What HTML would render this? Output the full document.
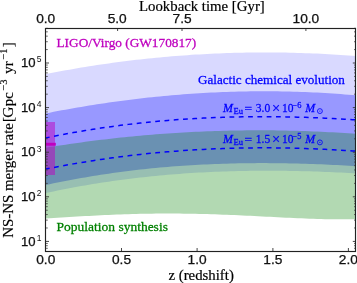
<!DOCTYPE html>
<html><head><meta charset="utf-8"><style>
html,body{margin:0;padding:0;background:#fff;}
body{width:357px;height:283px;position:relative;overflow:hidden;}
svg{position:absolute;left:0;top:0;will-change:transform;}
.maj{stroke:#333;stroke-width:0.9;}
.min{stroke:#444;stroke-width:0.8;}
.tk{font-family:"Liberation Sans",sans-serif;font-size:12px;fill:#111;stroke:#111;stroke-width:0.25px;}
.sup{font-family:"Liberation Sans",sans-serif;font-size:8.5px;fill:#111;}
.sf{font-family:"Liberation Serif",serif;}
.lg{stroke-width:0.28px;}
</style></head><body>
<svg width="357" height="283" viewBox="0 0 357 283">
<defs><clipPath id="c"><rect x="45.8" y="28" width="310.2" height="223"/></clipPath></defs>
<g clip-path="url(#c)">
<path d="M45.80,74.07 L49.73,73.30 L53.67,72.53 L57.60,71.78 L61.53,71.05 L65.46,70.33 L69.40,69.63 L73.33,68.94 L77.26,68.26 L81.20,67.60 L85.13,66.95 L89.06,66.32 L92.99,65.70 L96.93,65.10 L100.86,64.51 L104.79,63.94 L108.73,63.38 L112.66,62.83 L116.59,62.30 L120.53,61.78 L124.46,61.28 L128.39,60.79 L132.32,60.31 L136.26,59.85 L140.19,59.41 L144.12,58.97 L148.06,58.55 L151.99,58.15 L155.92,57.76 L159.85,57.38 L163.79,57.02 L167.72,56.67 L171.65,56.34 L175.59,56.02 L179.52,55.71 L183.45,55.42 L187.38,55.14 L191.32,54.87 L195.25,54.62 L199.18,54.39 L203.12,54.16 L207.05,53.95 L210.98,53.76 L214.92,53.57 L218.85,53.41 L222.78,53.25 L226.71,53.11 L230.65,52.98 L234.58,52.87 L238.51,52.77 L242.45,52.68 L246.38,52.61 L250.31,52.55 L254.24,52.50 L258.18,52.47 L262.11,52.45 L266.04,52.45 L269.98,52.46 L273.91,52.48 L277.84,52.51 L281.77,52.56 L285.71,52.62 L289.64,52.70 L293.57,52.79 L297.51,52.89 L301.44,53.00 L305.37,53.13 L309.31,53.27 L313.24,53.43 L317.17,53.60 L321.10,53.78 L325.04,53.97 L328.97,54.18 L332.90,54.40 L336.84,54.63 L340.77,54.88 L344.70,55.14 L348.63,55.41 L352.57,55.70 L356.50,56.00 L356.50,173.47 L352.57,173.24 L348.63,173.02 L344.70,172.81 L340.77,172.61 L336.84,172.42 L332.90,172.23 L328.97,172.06 L325.04,171.90 L321.10,171.75 L317.17,171.60 L313.24,171.47 L309.31,171.35 L305.37,171.24 L301.44,171.14 L297.51,171.05 L293.57,170.97 L289.64,170.90 L285.71,170.84 L281.77,170.79 L277.84,170.76 L273.91,170.74 L269.98,170.72 L266.04,170.72 L262.11,170.73 L258.18,170.76 L254.24,170.79 L250.31,170.84 L246.38,170.90 L242.45,170.97 L238.51,171.05 L234.58,171.15 L230.65,171.26 L226.71,171.38 L222.78,171.52 L218.85,171.67 L214.92,171.83 L210.98,172.01 L207.05,172.20 L203.12,172.40 L199.18,172.61 L195.25,172.84 L191.32,173.09 L187.38,173.35 L183.45,173.62 L179.52,173.91 L175.59,174.21 L171.65,174.52 L167.72,174.85 L163.79,175.20 L159.85,175.56 L155.92,175.94 L151.99,176.33 L148.06,176.73 L144.12,177.15 L140.19,177.59 L136.26,178.04 L132.32,178.51 L128.39,179.00 L124.46,179.50 L120.53,180.02 L116.59,180.55 L112.66,181.10 L108.73,181.66 L104.79,182.25 L100.86,182.85 L96.93,183.46 L92.99,184.10 L89.06,184.75 L85.13,185.42 L81.20,186.10 L77.26,186.81 L73.33,187.53 L69.40,188.27 L65.46,189.02 L61.53,189.80 L57.60,190.59 L53.67,191.40 L49.73,192.23 L45.80,193.08 Z" fill="#0000ff" fill-opacity="0.15"/>
<path d="M45.80,113.42 L49.73,112.64 L53.67,111.87 L57.60,111.12 L61.53,110.37 L65.46,109.65 L69.40,108.93 L73.33,108.23 L77.26,107.55 L81.20,106.88 L85.13,106.22 L89.06,105.57 L92.99,104.94 L96.93,104.33 L100.86,103.72 L104.79,103.14 L108.73,102.56 L112.66,102.00 L116.59,101.46 L120.53,100.92 L124.46,100.41 L128.39,99.90 L132.32,99.41 L136.26,98.94 L140.19,98.48 L144.12,98.03 L148.06,97.60 L151.99,97.18 L155.92,96.77 L159.85,96.38 L163.79,96.01 L167.72,95.64 L171.65,95.30 L175.59,94.96 L179.52,94.64 L183.45,94.34 L187.38,94.05 L191.32,93.77 L195.25,93.51 L199.18,93.26 L203.12,93.03 L207.05,92.81 L210.98,92.61 L214.92,92.42 L218.85,92.25 L222.78,92.08 L226.71,91.94 L230.65,91.81 L234.58,91.69 L238.51,91.59 L242.45,91.50 L246.38,91.43 L250.31,91.37 L254.24,91.32 L258.18,91.29 L262.11,91.28 L266.04,91.28 L269.98,91.29 L273.91,91.32 L277.84,91.37 L281.77,91.43 L285.71,91.50 L289.64,91.59 L293.57,91.69 L297.51,91.81 L301.44,91.94 L305.37,92.09 L309.31,92.25 L313.24,92.43 L317.17,92.62 L321.10,92.82 L325.04,93.05 L328.97,93.28 L332.90,93.53 L336.84,93.80 L340.77,94.08 L344.70,94.38 L348.63,94.69 L352.57,95.01 L356.50,95.35 L356.50,166.21 L352.57,165.96 L348.63,165.73 L344.70,165.50 L340.77,165.29 L336.84,165.08 L332.90,164.88 L328.97,164.69 L325.04,164.52 L321.10,164.35 L317.17,164.19 L313.24,164.04 L309.31,163.91 L305.37,163.78 L301.44,163.66 L297.51,163.56 L293.57,163.46 L289.64,163.38 L285.71,163.31 L281.77,163.24 L277.84,163.19 L273.91,163.16 L269.98,163.13 L266.04,163.11 L262.11,163.11 L258.18,163.12 L254.24,163.14 L250.31,163.17 L246.38,163.22 L242.45,163.28 L238.51,163.35 L234.58,163.43 L230.65,163.53 L226.71,163.64 L222.78,163.76 L218.85,163.89 L214.92,164.04 L210.98,164.21 L207.05,164.38 L203.12,164.57 L199.18,164.78 L195.25,165.00 L191.32,165.23 L187.38,165.48 L183.45,165.74 L179.52,166.02 L175.59,166.31 L171.65,166.61 L167.72,166.93 L163.79,167.27 L159.85,167.62 L155.92,167.99 L151.99,168.37 L148.06,168.77 L144.12,169.18 L140.19,169.61 L136.26,170.06 L132.32,170.52 L128.39,171.00 L124.46,171.49 L120.53,172.01 L116.59,172.53 L112.66,173.08 L108.73,173.64 L104.79,174.22 L100.86,174.82 L96.93,175.43 L92.99,176.06 L89.06,176.71 L85.13,177.38 L81.20,178.06 L77.26,178.77 L73.33,179.49 L69.40,180.23 L65.46,180.98 L61.53,181.76 L57.60,182.56 L53.67,183.37 L49.73,184.20 L45.80,185.05 Z" fill="#0000ff" fill-opacity="0.3"/>
<path d="M45.80,147.75 L49.73,147.11 L53.67,146.48 L57.60,145.86 L61.53,145.25 L65.46,144.66 L69.40,144.07 L73.33,143.50 L77.26,142.95 L81.20,142.40 L85.13,141.87 L89.06,141.35 L92.99,140.84 L96.93,140.34 L100.86,139.85 L104.79,139.38 L108.73,138.92 L112.66,138.47 L116.59,138.03 L120.53,137.61 L124.46,137.20 L128.39,136.80 L132.32,136.41 L136.26,136.03 L140.19,135.67 L144.12,135.31 L148.06,134.97 L151.99,134.65 L155.92,134.33 L159.85,134.02 L163.79,133.73 L167.72,133.45 L171.65,133.18 L175.59,132.93 L179.52,132.68 L183.45,132.45 L187.38,132.23 L191.32,132.02 L195.25,131.82 L199.18,131.64 L203.12,131.46 L207.05,131.30 L210.98,131.15 L214.92,131.02 L218.85,130.89 L222.78,130.78 L226.71,130.67 L230.65,130.58 L234.58,130.51 L238.51,130.44 L242.45,130.38 L246.38,130.34 L250.31,130.31 L254.24,130.29 L258.18,130.28 L262.11,130.29 L266.04,130.30 L269.98,130.33 L273.91,130.37 L277.84,130.42 L281.77,130.48 L285.71,130.56 L289.64,130.64 L293.57,130.74 L297.51,130.85 L301.44,130.97 L305.37,131.11 L309.31,131.25 L313.24,131.41 L317.17,131.57 L321.10,131.75 L325.04,131.94 L328.97,132.15 L332.90,132.36 L336.84,132.59 L340.77,132.82 L344.70,133.07 L348.63,133.33 L352.57,133.61 L356.50,133.89 L356.50,219.20 L352.57,219.28 L348.63,219.33 L344.70,219.35 L340.77,219.35 L336.84,219.33 L332.90,219.28 L328.97,219.22 L325.04,219.14 L321.10,219.04 L317.17,218.93 L313.24,218.80 L309.31,218.66 L305.37,218.51 L301.44,218.35 L297.51,218.18 L293.57,218.01 L289.64,217.82 L285.71,217.63 L281.77,217.44 L277.84,217.24 L273.91,217.05 L269.98,216.85 L266.04,216.65 L262.11,216.44 L258.18,216.25 L254.24,216.05 L250.31,215.86 L246.38,215.67 L242.45,215.48 L238.51,215.30 L234.58,215.12 L230.65,214.96 L226.71,214.80 L222.78,214.64 L218.85,214.50 L214.92,214.36 L210.98,214.23 L207.05,214.12 L203.12,214.01 L199.18,213.91 L195.25,213.82 L191.32,213.75 L187.38,213.68 L183.45,213.63 L179.52,213.59 L175.59,213.56 L171.65,213.55 L167.72,213.54 L163.79,213.55 L159.85,213.57 L155.92,213.60 L151.99,213.65 L148.06,213.70 L144.12,213.77 L140.19,213.85 L136.26,213.95 L132.32,214.05 L128.39,214.17 L124.46,214.30 L120.53,214.43 L116.59,214.58 L112.66,214.74 L108.73,214.91 L104.79,215.09 L100.86,215.28 L96.93,215.48 L92.99,215.68 L89.06,215.89 L85.13,216.11 L81.20,216.34 L77.26,216.57 L73.33,216.81 L69.40,217.05 L65.46,217.29 L61.53,217.54 L57.60,217.79 L53.67,218.03 L49.73,218.28 L45.80,218.53 Z" fill="#008000" fill-opacity="0.3"/>
<rect x="45.8" y="122" width="9.2" height="53" fill="#bf00bf" fill-opacity="0.5"/>
<rect x="45.8" y="142.8" width="10" height="2.9" fill="#bf00bf"/>
<path d="M45.80,137.93 L49.73,137.11 L53.67,136.31 L57.60,135.53 L61.53,134.77 L65.46,134.03 L69.40,133.30 L73.33,132.59 L77.26,131.89 L81.20,131.22 L85.13,130.56 L89.06,129.91 L92.99,129.29 L96.93,128.68 L100.86,128.08 L104.79,127.51 L108.73,126.95 L112.66,126.40 L116.59,125.87 L120.53,125.36 L124.46,124.86 L128.39,124.38 L132.32,123.92 L136.26,123.47 L140.19,123.03 L144.12,122.62 L148.06,122.21 L151.99,121.82 L155.92,121.45 L159.85,121.09 L163.79,120.75 L167.72,120.42 L171.65,120.10 L175.59,119.80 L179.52,119.52 L183.45,119.25 L187.38,118.99 L191.32,118.75 L195.25,118.52 L199.18,118.30 L203.12,118.10 L207.05,117.91 L210.98,117.74 L214.92,117.58 L218.85,117.43 L222.78,117.30 L226.71,117.18 L230.65,117.07 L234.58,116.97 L238.51,116.89 L242.45,116.82 L246.38,116.77 L250.31,116.72 L254.24,116.69 L258.18,116.67 L262.11,116.67 L266.04,116.67 L269.98,116.69 L273.91,116.72 L277.84,116.76 L281.77,116.81 L285.71,116.88 L289.64,116.95 L293.57,117.04 L297.51,117.14 L301.44,117.25 L305.37,117.37 L309.31,117.50 L313.24,117.64 L317.17,117.80 L321.10,117.96 L325.04,118.14 L328.97,118.32 L332.90,118.52 L336.84,118.73 L340.77,118.94 L344.70,119.17 L348.63,119.41 L352.57,119.65 L356.50,119.91" fill="none" stroke="#0000ff" stroke-width="1.5" stroke-dasharray="4.8 4.5" stroke-dashoffset="0.9"/>
<path d="M45.80,169.04 L49.73,168.26 L53.67,167.49 L57.60,166.73 L61.53,165.99 L65.46,165.27 L69.40,164.56 L73.33,163.87 L77.26,163.20 L81.20,162.54 L85.13,161.89 L89.06,161.26 L92.99,160.64 L96.93,160.05 L100.86,159.46 L104.79,158.89 L108.73,158.34 L112.66,157.80 L116.59,157.27 L120.53,156.76 L124.46,156.27 L128.39,155.79 L132.32,155.32 L136.26,154.87 L140.19,154.44 L144.12,154.01 L148.06,153.61 L151.99,153.21 L155.92,152.84 L159.85,152.47 L163.79,152.12 L167.72,151.79 L171.65,151.46 L175.59,151.16 L179.52,150.86 L183.45,150.58 L187.38,150.32 L191.32,150.06 L195.25,149.83 L199.18,149.60 L203.12,149.39 L207.05,149.19 L210.98,149.01 L214.92,148.84 L218.85,148.68 L222.78,148.54 L226.71,148.41 L230.65,148.29 L234.58,148.19 L238.51,148.10 L242.45,148.02 L246.38,147.96 L250.31,147.91 L254.24,147.87 L258.18,147.84 L262.11,147.83 L266.04,147.83 L269.98,147.84 L273.91,147.87 L277.84,147.91 L281.77,147.96 L285.71,148.02 L289.64,148.10 L293.57,148.18 L297.51,148.28 L301.44,148.39 L305.37,148.52 L309.31,148.66 L313.24,148.80 L317.17,148.96 L321.10,149.14 L325.04,149.32 L328.97,149.52 L332.90,149.73 L336.84,149.95 L340.77,150.18 L344.70,150.42 L348.63,150.67 L352.57,150.94 L356.50,151.22" fill="none" stroke="#0000ff" stroke-width="1.5" stroke-dasharray="4.8 4.5" stroke-dashoffset="0.9"/>
</g>
<line x1="45.8" y1="241.41" x2="49" y2="241.41" class="maj"/><line x1="356" y1="241.41" x2="352.8" y2="241.41" class="maj"/><line x1="45.8" y1="196.81" x2="49" y2="196.81" class="maj"/><line x1="356" y1="196.81" x2="352.8" y2="196.81" class="maj"/><line x1="45.8" y1="152.21" x2="49" y2="152.21" class="maj"/><line x1="356" y1="152.21" x2="352.8" y2="152.21" class="maj"/><line x1="45.8" y1="107.61" x2="49" y2="107.61" class="maj"/><line x1="356" y1="107.61" x2="352.8" y2="107.61" class="maj"/><line x1="45.8" y1="63.01" x2="49" y2="63.01" class="maj"/><line x1="356" y1="63.01" x2="352.8" y2="63.01" class="maj"/><line x1="45.8" y1="248.31" x2="47.8" y2="248.31" class="min"/><line x1="356" y1="248.31" x2="354" y2="248.31" class="min"/><line x1="45.8" y1="245.73" x2="47.8" y2="245.73" class="min"/><line x1="356" y1="245.73" x2="354" y2="245.73" class="min"/><line x1="45.8" y1="243.45" x2="47.8" y2="243.45" class="min"/><line x1="356" y1="243.45" x2="354" y2="243.45" class="min"/><line x1="45.8" y1="227.98" x2="47.8" y2="227.98" class="min"/><line x1="356" y1="227.98" x2="354" y2="227.98" class="min"/><line x1="45.8" y1="220.13" x2="47.8" y2="220.13" class="min"/><line x1="356" y1="220.13" x2="354" y2="220.13" class="min"/><line x1="45.8" y1="214.55" x2="47.8" y2="214.55" class="min"/><line x1="356" y1="214.55" x2="354" y2="214.55" class="min"/><line x1="45.8" y1="210.23" x2="47.8" y2="210.23" class="min"/><line x1="356" y1="210.23" x2="354" y2="210.23" class="min"/><line x1="45.8" y1="206.70" x2="47.8" y2="206.70" class="min"/><line x1="356" y1="206.70" x2="354" y2="206.70" class="min"/><line x1="45.8" y1="203.71" x2="47.8" y2="203.71" class="min"/><line x1="356" y1="203.71" x2="354" y2="203.71" class="min"/><line x1="45.8" y1="201.13" x2="47.8" y2="201.13" class="min"/><line x1="356" y1="201.13" x2="354" y2="201.13" class="min"/><line x1="45.8" y1="198.85" x2="47.8" y2="198.85" class="min"/><line x1="356" y1="198.85" x2="354" y2="198.85" class="min"/><line x1="45.8" y1="183.38" x2="47.8" y2="183.38" class="min"/><line x1="356" y1="183.38" x2="354" y2="183.38" class="min"/><line x1="45.8" y1="175.53" x2="47.8" y2="175.53" class="min"/><line x1="356" y1="175.53" x2="354" y2="175.53" class="min"/><line x1="45.8" y1="169.95" x2="47.8" y2="169.95" class="min"/><line x1="356" y1="169.95" x2="354" y2="169.95" class="min"/><line x1="45.8" y1="165.63" x2="47.8" y2="165.63" class="min"/><line x1="356" y1="165.63" x2="354" y2="165.63" class="min"/><line x1="45.8" y1="162.10" x2="47.8" y2="162.10" class="min"/><line x1="356" y1="162.10" x2="354" y2="162.10" class="min"/><line x1="45.8" y1="159.11" x2="47.8" y2="159.11" class="min"/><line x1="356" y1="159.11" x2="354" y2="159.11" class="min"/><line x1="45.8" y1="156.53" x2="47.8" y2="156.53" class="min"/><line x1="356" y1="156.53" x2="354" y2="156.53" class="min"/><line x1="45.8" y1="154.25" x2="47.8" y2="154.25" class="min"/><line x1="356" y1="154.25" x2="354" y2="154.25" class="min"/><line x1="45.8" y1="138.78" x2="47.8" y2="138.78" class="min"/><line x1="356" y1="138.78" x2="354" y2="138.78" class="min"/><line x1="45.8" y1="130.93" x2="47.8" y2="130.93" class="min"/><line x1="356" y1="130.93" x2="354" y2="130.93" class="min"/><line x1="45.8" y1="125.35" x2="47.8" y2="125.35" class="min"/><line x1="356" y1="125.35" x2="354" y2="125.35" class="min"/><line x1="45.8" y1="121.03" x2="47.8" y2="121.03" class="min"/><line x1="356" y1="121.03" x2="354" y2="121.03" class="min"/><line x1="45.8" y1="117.50" x2="47.8" y2="117.50" class="min"/><line x1="356" y1="117.50" x2="354" y2="117.50" class="min"/><line x1="45.8" y1="114.51" x2="47.8" y2="114.51" class="min"/><line x1="356" y1="114.51" x2="354" y2="114.51" class="min"/><line x1="45.8" y1="111.93" x2="47.8" y2="111.93" class="min"/><line x1="356" y1="111.93" x2="354" y2="111.93" class="min"/><line x1="45.8" y1="109.65" x2="47.8" y2="109.65" class="min"/><line x1="356" y1="109.65" x2="354" y2="109.65" class="min"/><line x1="45.8" y1="94.18" x2="47.8" y2="94.18" class="min"/><line x1="356" y1="94.18" x2="354" y2="94.18" class="min"/><line x1="45.8" y1="86.33" x2="47.8" y2="86.33" class="min"/><line x1="356" y1="86.33" x2="354" y2="86.33" class="min"/><line x1="45.8" y1="80.75" x2="47.8" y2="80.75" class="min"/><line x1="356" y1="80.75" x2="354" y2="80.75" class="min"/><line x1="45.8" y1="76.43" x2="47.8" y2="76.43" class="min"/><line x1="356" y1="76.43" x2="354" y2="76.43" class="min"/><line x1="45.8" y1="72.90" x2="47.8" y2="72.90" class="min"/><line x1="356" y1="72.90" x2="354" y2="72.90" class="min"/><line x1="45.8" y1="69.91" x2="47.8" y2="69.91" class="min"/><line x1="356" y1="69.91" x2="354" y2="69.91" class="min"/><line x1="45.8" y1="67.33" x2="47.8" y2="67.33" class="min"/><line x1="356" y1="67.33" x2="354" y2="67.33" class="min"/><line x1="45.8" y1="65.05" x2="47.8" y2="65.05" class="min"/><line x1="356" y1="65.05" x2="354" y2="65.05" class="min"/><line x1="45.8" y1="49.58" x2="47.8" y2="49.58" class="min"/><line x1="356" y1="49.58" x2="354" y2="49.58" class="min"/><line x1="45.8" y1="41.73" x2="47.8" y2="41.73" class="min"/><line x1="356" y1="41.73" x2="354" y2="41.73" class="min"/><line x1="45.8" y1="36.15" x2="47.8" y2="36.15" class="min"/><line x1="356" y1="36.15" x2="354" y2="36.15" class="min"/><line x1="45.8" y1="31.83" x2="47.8" y2="31.83" class="min"/><line x1="356" y1="31.83" x2="354" y2="31.83" class="min"/><line x1="45.8" y1="28.30" x2="47.8" y2="28.30" class="min"/><line x1="356" y1="28.30" x2="354" y2="28.30" class="min"/><line x1="121.50" y1="251" x2="121.50" y2="248" class="maj"/><line x1="197.10" y1="251" x2="197.10" y2="248" class="maj"/><line x1="272.90" y1="251" x2="272.90" y2="248" class="maj"/><line x1="348.40" y1="251" x2="348.40" y2="248" class="maj"/><line x1="117.60" y1="28" x2="117.60" y2="31" class="maj"/><line x1="182.00" y1="28" x2="182.00" y2="31" class="maj"/><line x1="305.90" y1="28" x2="305.90" y2="31" class="maj"/>
<rect x="45.5" y="28.5" width="310" height="223" fill="none" stroke="#222" stroke-width="1.15"/>
<text class="tk" x="45.7" y="23.2" text-anchor="middle" textLength="19.07" lengthAdjust="spacingAndGlyphs">0.0</text><text class="tk" x="117.2" y="23.2" text-anchor="middle" textLength="19.07" lengthAdjust="spacingAndGlyphs">5.0</text><text class="tk" x="182.1" y="23.2" text-anchor="middle" textLength="19.07" lengthAdjust="spacingAndGlyphs">7.5</text><text class="tk" x="305.9" y="23.2" text-anchor="middle" textLength="26.70" lengthAdjust="spacingAndGlyphs">10.0</text><text class="tk" x="45.8" y="264.2" text-anchor="middle" textLength="19.07" lengthAdjust="spacingAndGlyphs">0.0</text><text class="tk" x="121.5" y="264.2" text-anchor="middle" textLength="19.07" lengthAdjust="spacingAndGlyphs">0.5</text><text class="tk" x="197.1" y="264.2" text-anchor="middle" textLength="19.07" lengthAdjust="spacingAndGlyphs">1.0</text><text class="tk" x="272.9" y="264.2" text-anchor="middle" textLength="19.07" lengthAdjust="spacingAndGlyphs">1.5</text><text class="tk" x="348.4" y="264.2" text-anchor="middle" textLength="19.07" lengthAdjust="spacingAndGlyphs">2.0</text><text class="tk" x="21" y="245.51" textLength="14.6" lengthAdjust="spacingAndGlyphs">10</text><text class="sup" x="36.7" y="240.71">1</text><text class="tk" x="21" y="200.91" textLength="14.6" lengthAdjust="spacingAndGlyphs">10</text><text class="sup" x="36.7" y="196.11">2</text><text class="tk" x="21" y="156.31" textLength="14.6" lengthAdjust="spacingAndGlyphs">10</text><text class="sup" x="36.7" y="151.51">3</text><text class="tk" x="21" y="111.71" textLength="14.6" lengthAdjust="spacingAndGlyphs">10</text><text class="sup" x="36.7" y="106.91">4</text><text class="tk" x="21" y="67.11" textLength="14.6" lengthAdjust="spacingAndGlyphs">10</text><text class="sup" x="36.7" y="62.31">5</text>
<text id="lookback" class="sf" stroke="#000" stroke-width="0.2" x="139" y="10.9" font-size="14.8">Lookback time [Gyr]</text>
<text id="zlab" class="sf" stroke="#000" stroke-width="0.2" x="168.5" y="279.9" font-size="14.8">z (redshift)</text>
<text id="ligo" class="sf lg" stroke="#bf00bf" x="56.5" y="46.8" font-size="13.3" fill="#bf00bf">LIGO/Virgo (GW170817)</text>
<text id="gce" class="sf lg" stroke="#0000ff" x="198" y="83.7" font-size="13.1" fill="#0000ff">Galactic chemical evolution</text>
<text id="pop" class="sf lg" stroke="#008000" x="56.5" y="231.1" font-size="13.5" fill="#008000">Population synthesis</text>
<g id="meu1" class="sf lg" fill="#0000ff" stroke="#0000ff"><text id="meu1_0" x="223.0" y="111.7" font-size="11.9" font-style="italic">M</text><text id="meu1_1" x="233.5" y="113.60000000000001" font-size="8.6">Eu</text><text id="meu1_2" x="244.6" y="111.7" font-size="11" textLength="7.6" lengthAdjust="spacingAndGlyphs">=</text><text id="meu1_3" x="255.8" y="111.7" font-size="11.5">3.0</text><text id="meu1_4" x="272.0" y="112.7" font-size="14.5">×</text><text id="meu1_5" x="282.1" y="111.7" font-size="11.5">10</text><text id="meu1_6" x="292.6" y="107.8" font-size="8.4">−6</text><text id="meu1_7" x="305.3" y="111.7" font-size="11.9" font-style="italic">M</text><circle cx="319.9" cy="111.10" r="2.45" fill="none" stroke-width="0.85"/><circle cx="319.9" cy="111.10" r="0.6" stroke="none"/></g><g id="meu2" class="sf lg" fill="#0000ff" stroke="#0000ff"><text id="meu2_0" x="223.0" y="143" font-size="11.9" font-style="italic">M</text><text id="meu2_1" x="233.5" y="144.9" font-size="8.6">Eu</text><text id="meu2_2" x="244.6" y="143" font-size="11" textLength="7.6" lengthAdjust="spacingAndGlyphs">=</text><text id="meu2_3" x="255.8" y="143" font-size="11.5">1.5</text><text id="meu2_4" x="272.0" y="144.0" font-size="14.5">×</text><text id="meu2_5" x="282.1" y="143" font-size="11.5">10</text><text id="meu2_6" x="292.6" y="139.1" font-size="8.4">−5</text><text id="meu2_7" x="305.3" y="143" font-size="11.9" font-style="italic">M</text><circle cx="319.9" cy="142.40" r="2.45" fill="none" stroke-width="0.85"/><circle cx="319.9" cy="142.40" r="0.6" stroke="none"/></g>
<g id="ylab" class="sf" stroke="#000" stroke-width="0.15" transform="translate(13.2,237.8) rotate(-90)" font-size="14.9">
 <text x="0" y="0">NS-NS merger rate</text>
 <text x="115.8" y="0">[</text>
 <text x="120" y="0" font-size="15.5">G</text><text x="131.6" y="0">pc</text>
 <text x="147.2" y="-6" font-size="10.5">−3</text>
 <text x="164" y="0">yr</text>
 <text x="178.2" y="-6" font-size="10.5">−1</text>
 <text x="190.5" y="0">]</text>
</g>
</svg>
</body></html>
